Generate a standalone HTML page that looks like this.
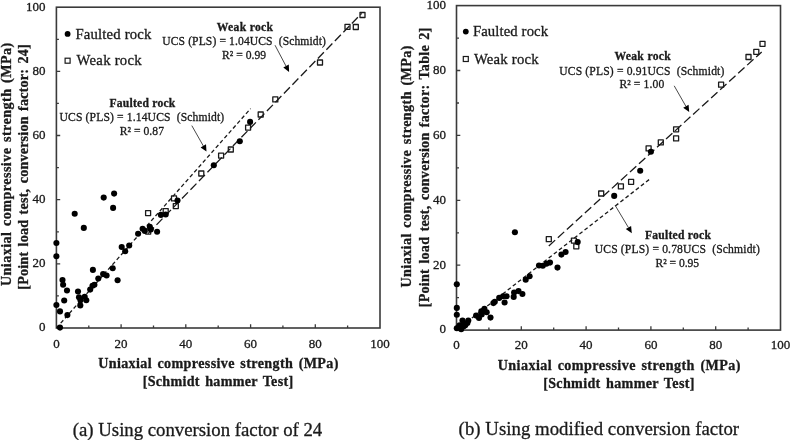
<!DOCTYPE html>
<html lang="en">
<head>
<meta charset="utf-8">
<title>UCS comparison: point load test vs Schmidt hammer test</title>
<style>
html,body{margin:0;padding:0;background:#fff;}
body{width:790px;height:440px;overflow:hidden;}
svg{display:block;font-family:"Liberation Serif","Times New Roman",Times,serif;}
text{stroke:#1a1a1a;stroke-width:0.3px;}
</style>
</head>
<body>
<svg width="790" height="440" viewBox="0 0 790 440">
<rect width="790" height="440" fill="#fff"/>
<g id="chart-a">
<rect x="56.4" y="7.2" width="323.6" height="320.8" fill="none" stroke="#3a3a3a" stroke-width="1.6"/>
<path d="M88.8 328v-2.5M56.4 295.9h2.5M121.1 328v-3.8M56.4 263.8h3.8M153.5 328v-2.5M56.4 231.8h2.5M185.8 328v-3.8M56.4 199.7h3.8M218.2 328v-2.5M56.4 167.6h2.5M250.6 328v-3.8M56.4 135.5h3.8M282.9 328v-2.5M56.4 103.4h2.5M315.3 328v-3.8M56.4 71.4h3.8M347.6 328v-2.5M56.4 39.3h2.5" stroke="#3a3a3a" stroke-width="1.3" fill="none"/>
<g font-size="13" fill="#1a1a1a">
<text x="45.4" y="331.3" text-anchor="end">0</text>
<text x="45.4" y="267.1" text-anchor="end">20</text>
<text x="45.4" y="203" text-anchor="end">40</text>
<text x="45.4" y="138.8" text-anchor="end">60</text>
<text x="45.4" y="74.7" text-anchor="end">80</text>
<text x="45.4" y="10.5" text-anchor="end">100</text>
<text x="56.4" y="347.6" text-anchor="middle">0</text>
<text x="121.1" y="347.6" text-anchor="middle">20</text>
<text x="185.8" y="347.6" text-anchor="middle">40</text>
<text x="250.6" y="347.6" text-anchor="middle">60</text>
<text x="315.3" y="347.6" text-anchor="middle">80</text>
<text x="380" y="347.6" text-anchor="middle">100</text>
</g>
<line x1="148" y1="233.6" x2="361.6" y2="13.4" stroke="#1a1a1a" stroke-width="1.3" stroke-dasharray="8.6 3.6"/>
<line x1="56.4" y1="328" x2="250.6" y2="108.6" stroke="#1a1a1a" stroke-width="1.3" stroke-dasharray="3.9 2.6"/>
<g fill="none" stroke="#1a1a1a" stroke-width="1.3" stroke-linejoin="round">
<rect x="145.6" y="210.6" width="5.0" height="5.0"/>
<rect x="145.7" y="229.1" width="5.0" height="5.0"/>
<rect x="163.2" y="208.6" width="5.0" height="5.0"/>
<rect x="171.5" y="195.9" width="5.0" height="5.0"/>
<rect x="173.3" y="203.6" width="5.0" height="5.0"/>
<rect x="198.8" y="171" width="5.0" height="5.0"/>
<rect x="218.6" y="153.1" width="5.0" height="5.0"/>
<rect x="228.3" y="147" width="5.0" height="5.0"/>
<rect x="245.6" y="125.1" width="5.0" height="5.0"/>
<rect x="258.2" y="112" width="5.0" height="5.0"/>
<rect x="272.8" y="96.9" width="5.0" height="5.0"/>
<rect x="317.5" y="60" width="5.0" height="5.0"/>
<rect x="345" y="24.3" width="5.0" height="5.0"/>
<rect x="353.3" y="24.5" width="5.0" height="5.0"/>
<rect x="360" y="12.5" width="5.0" height="5.0"/>
</g>
<g fill="#000">
<circle cx="56.4" cy="256.2" r="3.05"/>
<circle cx="60" cy="327.6" r="3.05"/>
<circle cx="56.4" cy="305" r="3.05"/>
<circle cx="60" cy="311.4" r="3.05"/>
<circle cx="67.4" cy="315.1" r="3.05"/>
<circle cx="64.2" cy="300.5" r="3.05"/>
<circle cx="67" cy="290.5" r="3.05"/>
<circle cx="62.5" cy="280" r="3.05"/>
<circle cx="63.1" cy="284.7" r="3.05"/>
<circle cx="78" cy="291.5" r="3.05"/>
<circle cx="79" cy="297.3" r="3.05"/>
<circle cx="80.5" cy="300.2" r="3.05"/>
<circle cx="80.3" cy="305.4" r="3.05"/>
<circle cx="84.7" cy="296.7" r="3.05"/>
<circle cx="86.3" cy="300.2" r="3.05"/>
<circle cx="90.2" cy="289.6" r="3.05"/>
<circle cx="92.5" cy="285.7" r="3.05"/>
<circle cx="94.4" cy="284.7" r="3.05"/>
<circle cx="92.9" cy="269.9" r="3.05"/>
<circle cx="98.3" cy="278.6" r="3.05"/>
<circle cx="103.1" cy="274.1" r="3.05"/>
<circle cx="106.6" cy="275.5" r="3.05"/>
<circle cx="112.7" cy="268.3" r="3.05"/>
<circle cx="117.6" cy="280.3" r="3.05"/>
<circle cx="125.2" cy="251.3" r="3.05"/>
<circle cx="56.4" cy="243" r="3.05"/>
<circle cx="74.7" cy="213.8" r="3.05"/>
<circle cx="83.8" cy="227.9" r="3.05"/>
<circle cx="103.7" cy="197.6" r="3.05"/>
<circle cx="114.1" cy="193.6" r="3.05"/>
<circle cx="113.1" cy="207.9" r="3.05"/>
<circle cx="121.7" cy="247" r="3.05"/>
<circle cx="129.2" cy="245.5" r="3.05"/>
<circle cx="138.1" cy="233.8" r="3.05"/>
<circle cx="142.6" cy="228.8" r="3.05"/>
<circle cx="144.8" cy="230.9" r="3.05"/>
<circle cx="149.8" cy="226.8" r="3.05"/>
<circle cx="150.8" cy="229.4" r="3.05"/>
<circle cx="157.1" cy="231.8" r="3.05"/>
<circle cx="160.9" cy="214.9" r="3.05"/>
<circle cx="165.7" cy="214.5" r="3.05"/>
<circle cx="177.5" cy="200.5" r="3.05"/>
<circle cx="213.8" cy="165.3" r="3.05"/>
<circle cx="239.8" cy="141.2" r="3.05"/>
<circle cx="250.1" cy="121.9" r="3.05"/>
</g>
<circle cx="67.6" cy="33.9" r="2.9" fill="#000"/>
<rect x="65.1" y="58.2" width="5" height="5" fill="#fff" stroke="#1a1a1a" stroke-width="1.2"/>
<text x="75.4" y="39.2" font-size="14.7" textLength="76.0" lengthAdjust="spacing" fill="#1a1a1a">Faulted rock</text>
<text x="76.6" y="65.4" font-size="14.7" textLength="65.0" lengthAdjust="spacing" fill="#1a1a1a">Weak rock</text>
<text x="244.9" y="30.9" font-size="11.6" font-weight="bold" text-anchor="middle" textLength="56.2" lengthAdjust="spacing" fill="#1a1a1a">Weak rock</text>
<text x="244.1" y="45.3" font-size="11.6" text-anchor="middle" textLength="163.7" lengthAdjust="spacing" fill="#1a1a1a" style="white-space:pre">UCS (PLS) = 1.04UCS  (Schmidt)</text>
<text x="244.1" y="58.7" font-size="11.6" text-anchor="middle" textLength="44.1" lengthAdjust="spacing" fill="#1a1a1a">R² = 0.99</text>
<text x="142.4" y="107.3" font-size="11.6" font-weight="bold" text-anchor="middle" textLength="65.8" lengthAdjust="spacing" fill="#1a1a1a">Faulted rock</text>
<text x="141.9" y="121.3" font-size="11.6" text-anchor="middle" textLength="164.6" lengthAdjust="spacing" fill="#1a1a1a" style="white-space:pre">UCS (PLS) = 1.14UCS  (Schmidt)</text>
<text x="141.8" y="134.7" font-size="11.6" text-anchor="middle" textLength="44.3" lengthAdjust="spacing" fill="#1a1a1a">R² = 0.87</text>
<line x1="275" y1="45.2" x2="286" y2="66.1" stroke="#1a1a1a" stroke-width="0.8"/>
<polygon points="289.1,71.9 283.3,67.5 288.8,64.6" fill="#000"/>
<line x1="191.8" y1="125.6" x2="203.3" y2="145.9" stroke="#1a1a1a" stroke-width="0.8"/>
<polygon points="206.5,151.6 200.6,147.4 206,144.3" fill="#000"/>
<text x="218.3" y="368" font-size="14.1" font-weight="bold" word-spacing="1.6" text-anchor="middle" textLength="240.3" lengthAdjust="spacing" fill="#1a1a1a">Uniaxial compressive strength (MPa)</text>
<text x="217.9" y="386.1" font-size="14.1" font-weight="bold" word-spacing="1.6" text-anchor="middle" textLength="150.4" lengthAdjust="spacing" fill="#1a1a1a">[Schmidt hammer Test]</text>
<text transform="translate(10.6 164.4) rotate(-90)" font-size="14.1" font-weight="bold" word-spacing="1.6" text-anchor="middle" textLength="243.4" lengthAdjust="spacing" fill="#1a1a1a">Uniaxial compressive strength (MPa)</text>
<text transform="translate(27.5 167.0) rotate(-90)" font-size="14.1" font-weight="bold" word-spacing="1.6" text-anchor="middle" textLength="245.5" lengthAdjust="spacing" fill="#1a1a1a">[Point load test, conversion factor: 24]</text>
<text x="72.8" y="435.5" font-size="18.8" textLength="249.4" lengthAdjust="spacing" fill="#1a1a1a">(a) Using conversion factor of 24</text>
</g>
<g id="chart-b">
<rect x="456.5" y="5.6" width="324" height="324.5" fill="none" stroke="#3a3a3a" stroke-width="1.6"/>
<path d="M488.9 330.1v-2.5M456.5 297.7h2.5M521.3 330.1v-3.8M456.5 265.2h3.8M553.7 330.1v-2.5M456.5 232.8h2.5M586.1 330.1v-3.8M456.5 200.3h3.8M618.5 330.1v-2.5M456.5 167.9h2.5M650.9 330.1v-3.8M456.5 135.4h3.8M683.3 330.1v-2.5M456.5 103h2.5M715.7 330.1v-3.8M456.5 70.5h3.8M748.1 330.1v-2.5M456.5 38.1h2.5" stroke="#3a3a3a" stroke-width="1.3" fill="none"/>
<g font-size="13" fill="#1a1a1a">
<text x="445.9" y="333.4" text-anchor="end">0</text>
<text x="445.9" y="268.5" text-anchor="end">20</text>
<text x="445.9" y="203.6" text-anchor="end">40</text>
<text x="445.9" y="138.7" text-anchor="end">60</text>
<text x="445.9" y="73.8" text-anchor="end">80</text>
<text x="445.9" y="8.9" text-anchor="end">100</text>
<text x="456.5" y="349.4" text-anchor="middle">0</text>
<text x="521.3" y="349.4" text-anchor="middle">20</text>
<text x="586.1" y="349.4" text-anchor="middle">40</text>
<text x="650.9" y="349.4" text-anchor="middle">60</text>
<text x="715.7" y="349.4" text-anchor="middle">80</text>
<text x="780.5" y="349.4" text-anchor="middle">100</text>
</g>
<line x1="548.8" y1="245.9" x2="761.7" y2="51.9" stroke="#1a1a1a" stroke-width="1.3" stroke-dasharray="8.6 3.6"/>
<line x1="456.5" y1="330.1" x2="650.9" y2="178.2" stroke="#1a1a1a" stroke-width="1.3" stroke-dasharray="3.9 2.6"/>
<g fill="none" stroke="#1a1a1a" stroke-width="1.3" stroke-linejoin="round">
<rect x="546.3" y="236.7" width="5.0" height="5.0"/>
<rect x="571.4" y="238.1" width="5.0" height="5.0"/>
<rect x="573.8" y="243.8" width="5.0" height="5.0"/>
<rect x="598.7" y="191" width="5.0" height="5.0"/>
<rect x="618.4" y="183.9" width="5.0" height="5.0"/>
<rect x="628.6" y="179.3" width="5.0" height="5.0"/>
<rect x="646.1" y="145.9" width="5.0" height="5.0"/>
<rect x="658.3" y="139.9" width="5.0" height="5.0"/>
<rect x="673.6" y="126.8" width="5.0" height="5.0"/>
<rect x="673.6" y="135.9" width="5.0" height="5.0"/>
<rect x="718.6" y="82.2" width="5.0" height="5.0"/>
<rect x="746" y="54.5" width="5.0" height="5.0"/>
<rect x="753.8" y="49.3" width="5.0" height="5.0"/>
<rect x="760" y="41.3" width="5.0" height="5.0"/>
</g>
<g fill="#000">
<circle cx="456.8" cy="284.2" r="3.05"/>
<circle cx="456.8" cy="307.9" r="3.05"/>
<circle cx="456.8" cy="314.7" r="3.05"/>
<circle cx="456.8" cy="328.2" r="3.05"/>
<circle cx="458.7" cy="327.2" r="3.05"/>
<circle cx="461.2" cy="329.2" r="3.05"/>
<circle cx="462.5" cy="320.5" r="3.05"/>
<circle cx="464.5" cy="324.3" r="3.05"/>
<circle cx="468.3" cy="320.5" r="3.05"/>
<circle cx="467.4" cy="323" r="3.05"/>
<circle cx="476.1" cy="315.6" r="3.05"/>
<circle cx="479" cy="318" r="3.05"/>
<circle cx="481.3" cy="311.4" r="3.05"/>
<circle cx="484.4" cy="308.9" r="3.05"/>
<circle cx="486.7" cy="312.2" r="3.05"/>
<circle cx="490.5" cy="317.6" r="3.05"/>
<circle cx="493.4" cy="303.1" r="3.05"/>
<circle cx="494.8" cy="301.7" r="3.05"/>
<circle cx="499.2" cy="297.9" r="3.05"/>
<circle cx="504.6" cy="302.5" r="3.05"/>
<circle cx="506.6" cy="296.3" r="3.05"/>
<circle cx="503.1" cy="296.3" r="3.05"/>
<circle cx="513.7" cy="296.9" r="3.05"/>
<circle cx="514.1" cy="292.5" r="3.05"/>
<circle cx="518.5" cy="291.1" r="3.05"/>
<circle cx="522.4" cy="294" r="3.05"/>
<circle cx="525.7" cy="279.8" r="3.05"/>
<circle cx="529.6" cy="276.3" r="3.05"/>
<circle cx="539" cy="265.5" r="3.05"/>
<circle cx="542.8" cy="265.7" r="3.05"/>
<circle cx="546.4" cy="263.8" r="3.05"/>
<circle cx="550" cy="262.6" r="3.05"/>
<circle cx="459.6" cy="325.4" r="3.05"/>
<circle cx="463.8" cy="326.2" r="3.05"/>
<circle cx="465.3" cy="325.3" r="3.05"/>
<circle cx="481.7" cy="314.5" r="3.05"/>
<circle cx="483.2" cy="311" r="3.05"/>
<circle cx="514.9" cy="232.2" r="3.05"/>
<circle cx="557.5" cy="267.6" r="3.05"/>
<circle cx="561.4" cy="254.6" r="3.05"/>
<circle cx="565.6" cy="252" r="3.05"/>
<circle cx="577.7" cy="242.1" r="3.05"/>
<circle cx="614.2" cy="195.9" r="3.05"/>
<circle cx="640.2" cy="170.7" r="3.05"/>
<circle cx="650.9" cy="151.8" r="3.05"/>
</g>
<circle cx="465.8" cy="31.6" r="2.9" fill="#000"/>
<rect x="463.3" y="56.5" width="5" height="5" fill="#fff" stroke="#1a1a1a" stroke-width="1.2"/>
<text x="472.9" y="36.2" font-size="14.7" textLength="75.2" lengthAdjust="spacing" fill="#1a1a1a">Faulted rock</text>
<text x="473.9" y="63.9" font-size="14.7" textLength="64.8" lengthAdjust="spacing" fill="#1a1a1a">Weak rock</text>
<text x="642.6" y="59.8" font-size="11.6" font-weight="bold" text-anchor="middle" textLength="56.4" lengthAdjust="spacing" fill="#1a1a1a">Weak rock</text>
<text x="641.8" y="74.6" font-size="11.6" text-anchor="middle" textLength="165.1" lengthAdjust="spacing" fill="#1a1a1a" style="white-space:pre">UCS (PLS) = 0.91UCS  (Schmidt)</text>
<text x="641.8" y="88.0" font-size="11.6" text-anchor="middle" textLength="44.8" lengthAdjust="spacing" fill="#1a1a1a">R² = 1.00</text>
<text x="677.9" y="238.7" font-size="11.6" font-weight="bold" text-anchor="middle" textLength="66" lengthAdjust="spacing" fill="#1a1a1a">Faulted rock</text>
<text x="677.3" y="252.7" font-size="11.6" text-anchor="middle" textLength="165.1" lengthAdjust="spacing" fill="#1a1a1a" style="white-space:pre">UCS (PLS) = 0.78UCS  (Schmidt)</text>
<text x="677.3" y="266.6" font-size="11.6" text-anchor="middle" textLength="43.7" lengthAdjust="spacing" fill="#1a1a1a">R² = 0.95</text>
<line x1="674.2" y1="85.8" x2="685.9" y2="106.3" stroke="#1a1a1a" stroke-width="0.8"/>
<polygon points="689.2,112 683.2,107.8 688.6,104.7" fill="#000"/>
<line x1="615.1" y1="205.3" x2="628.4" y2="227.5" stroke="#1a1a1a" stroke-width="0.8"/>
<polygon points="631.8,233.2 625.8,229.1 631.1,225.9" fill="#000"/>
<text x="619.1" y="370.3" font-size="14.1" font-weight="bold" word-spacing="1.6" text-anchor="middle" textLength="242.8" lengthAdjust="spacing" fill="#1a1a1a">Uniaxial compressive strength (MPa)</text>
<text x="618.8" y="387.6" font-size="14.1" font-weight="bold" word-spacing="1.6" text-anchor="middle" textLength="151.3" lengthAdjust="spacing" fill="#1a1a1a">[Schmidt hammer Test]</text>
<text transform="translate(410.7 166.5) rotate(-90)" font-size="14.1" font-weight="bold" word-spacing="1.6" text-anchor="middle" textLength="242.0" lengthAdjust="spacing" fill="#1a1a1a">Uniaxial compressive strength (MPa)</text>
<text transform="translate(428.8 167.5) rotate(-90)" font-size="14.1" font-weight="bold" word-spacing="1.6" text-anchor="middle" textLength="279.6" lengthAdjust="spacing" fill="#1a1a1a">[Point load test, conversion factor: Table 2]</text>
<text x="458.6" y="435.3" font-size="18.8" textLength="280.5" lengthAdjust="spacing" fill="#1a1a1a">(b) Using modified conversion factor</text>
</g>
</svg>
</body>
</html>
